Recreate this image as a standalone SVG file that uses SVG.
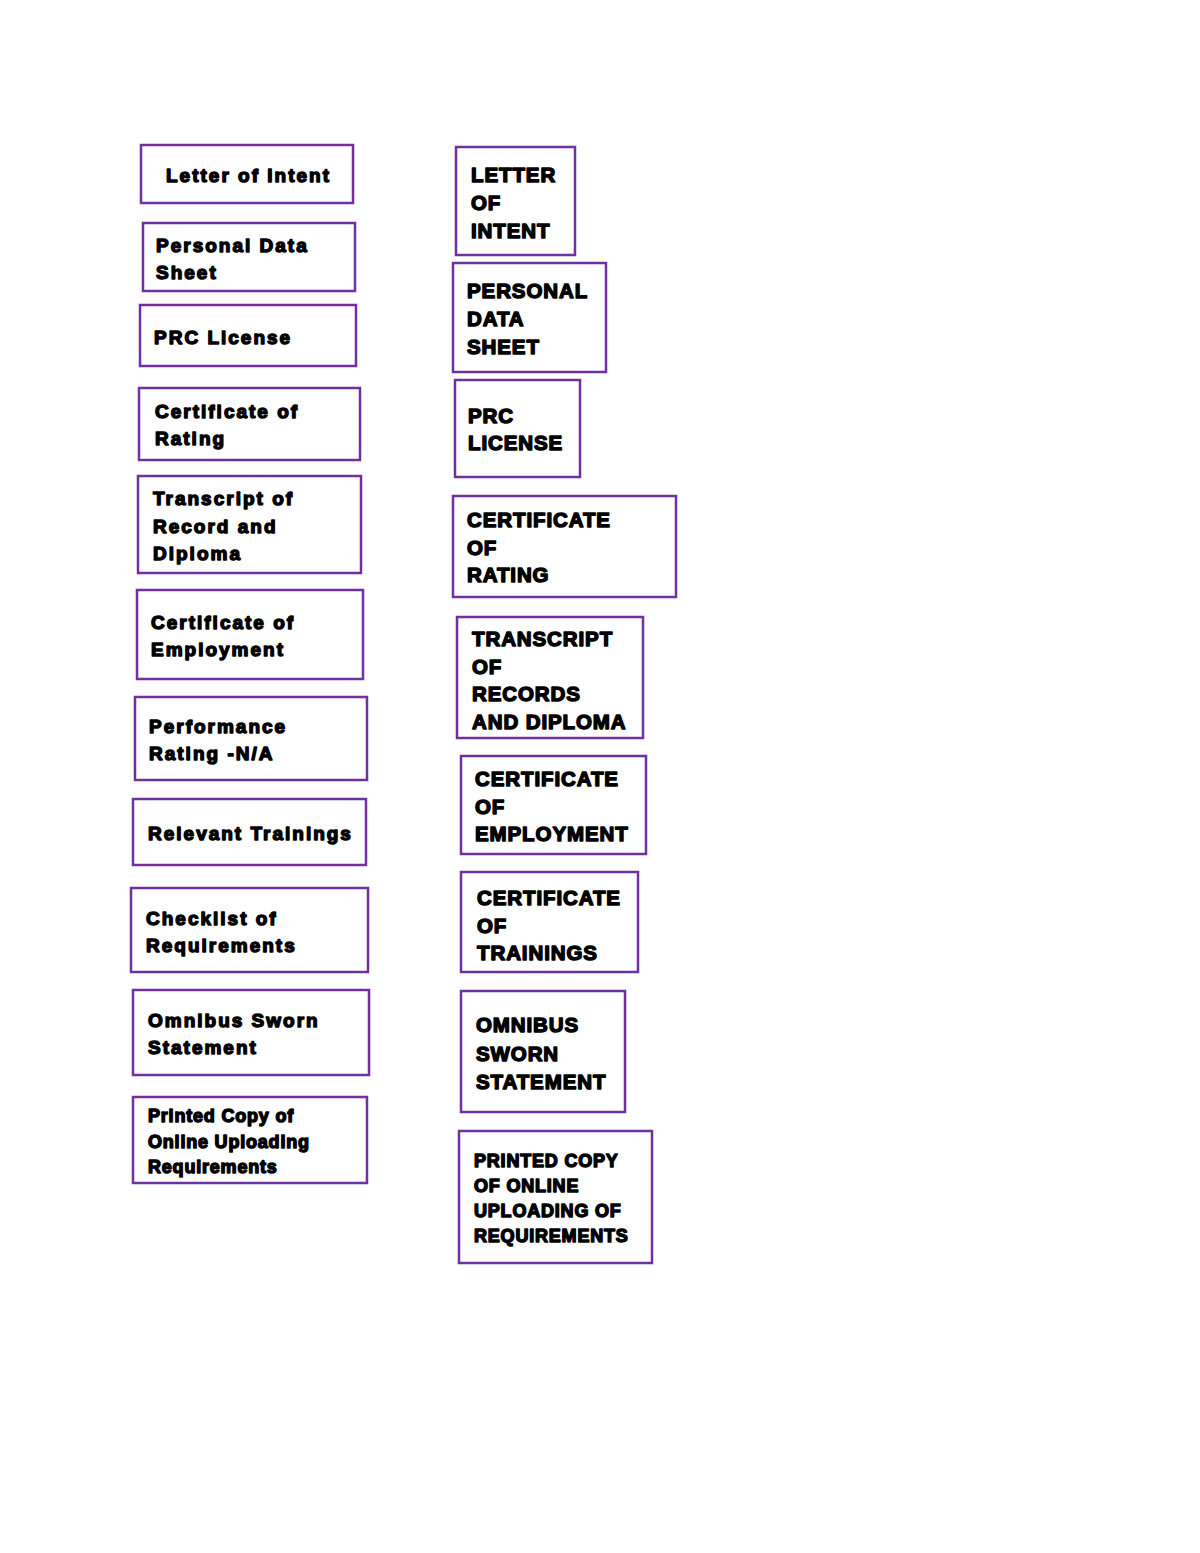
<svg xmlns="http://www.w3.org/2000/svg" width="1200" height="1553" viewBox="0 0 1200 1553">
<style>
rect{fill:#fff;stroke:#7030A0;stroke-width:2.5}
text{font-family:"Liberation Sans",Arial,sans-serif;font-weight:bold;fill:#000;stroke:#000;stroke-width:1.4;stroke-linejoin:round}
.l{font-size:19px;letter-spacing:2px}
.u{font-size:20.5px;letter-spacing:0.9px}
.s{font-size:18px;letter-spacing:0.8px}
</style>
<rect width="1200" height="1553" style="fill:#fff;stroke:none"/>
<g id="left">
<g id="l1"><rect x="141" y="145" width="212" height="58"/><text class="l" x="166" y="182">Letter of Intent</text></g>
<g id="l2"><rect x="143" y="223" width="212" height="68"/><text class="l" x="156" y="252">Personal Data<tspan x="156" dy="27">Sheet</tspan></text></g>
<g id="l3"><rect x="140" y="305" width="216" height="61"/><text class="l" x="154" y="344">PRC License</text></g>
<g id="l4"><rect x="139" y="388" width="221" height="72"/><text class="l" x="155" y="418">Certificate of<tspan x="155" dy="27">Rating</tspan></text></g>
<g id="l5"><rect x="138" y="476" width="223" height="97"/><text class="l" x="153" y="505">Transcript of<tspan x="153" dy="27.5">Record and</tspan><tspan x="153" dy="27.5">Diploma</tspan></text></g>
<g id="l6"><rect x="137" y="590" width="226" height="89"/><text class="l" x="151" y="629">Certificate of<tspan x="151" dy="27">Employment</tspan></text></g>
<g id="l7"><rect x="135" y="697" width="232" height="83"/><text class="l" x="149" y="733">Performance<tspan x="149" dy="27">Rating -N/A</tspan></text></g>
<g id="l8"><rect x="133" y="799" width="233" height="66"/><text class="l" x="148" y="840">Relevant Trainings</text></g>
<g id="l9"><rect x="131" y="888" width="237" height="84"/><text class="l" x="146" y="925">Checklist of<tspan x="146" dy="27">Requirements</tspan></text></g>
<g id="l10"><rect x="133" y="990" width="236" height="85"/><text class="l" x="148" y="1027">Omnibus Sworn<tspan x="148" dy="27">Statement</tspan></text></g>
<g id="l11"><rect x="133" y="1097" width="234" height="86"/><text class="s" x="148" y="1122">Printed Copy of<tspan x="148" dy="25.5">Online Uploading</tspan><tspan x="148" dy="25.5">Requirements</tspan></text></g>
</g>
<g id="right">
<g id="r1"><rect x="456" y="147" width="119" height="108"/><text class="u" x="471" y="182">LETTER<tspan x="471" dy="28">OF</tspan><tspan x="471" dy="28">INTENT</tspan></text></g>
<g id="r2"><rect x="453" y="263" width="153" height="109"/><text class="u" x="467" y="298">PERSONAL<tspan x="467" dy="28">DATA</tspan><tspan x="467" dy="28">SHEET</tspan></text></g>
<g id="r3"><rect x="455" y="380" width="125" height="97"/><text class="u" x="468" y="423">PRC<tspan x="468" dy="27">LICENSE</tspan></text></g>
<g id="r4"><rect x="453" y="496" width="223" height="101"/><text class="u" x="467" y="527">CERTIFICATE<tspan x="467" dy="27.5">OF</tspan><tspan x="467" dy="27.5">RATING</tspan></text></g>
<g id="r5"><rect x="457" y="617" width="186" height="121"/><text class="u" x="472" y="646">TRANSCRIPT<tspan x="472" dy="27.5">OF</tspan><tspan x="472" dy="27.5">RECORDS</tspan><tspan x="472" dy="27.5">AND DIPLOMA</tspan></text></g>
<g id="r6"><rect x="461" y="756" width="185" height="98"/><text class="u" x="475" y="786">CERTIFICATE<tspan x="475" dy="27.5">OF</tspan><tspan x="475" dy="27.5">EMPLOYMENT</tspan></text></g>
<g id="r7"><rect x="461" y="872" width="177" height="100"/><text class="u" x="477" y="905">CERTIFICATE<tspan x="477" dy="27.5">OF</tspan><tspan x="477" dy="27.5">TRAININGS</tspan></text></g>
<g id="r8"><rect x="461" y="991" width="164" height="121"/><text class="u" x="476" y="1032">OMNIBUS<tspan x="476" dy="28.5">SWORN</tspan><tspan x="476" dy="28.5">STATEMENT</tspan></text></g>
<g id="r9"><rect x="459" y="1131" width="193" height="132"/><text class="s" x="474" y="1167">PRINTED COPY<tspan x="474" dy="25">OF ONLINE</tspan><tspan x="474" dy="25">UPLOADING OF</tspan><tspan x="474" dy="25">REQUIREMENTS</tspan></text></g>
</g>
<g id="connectors"></g>
</svg>
